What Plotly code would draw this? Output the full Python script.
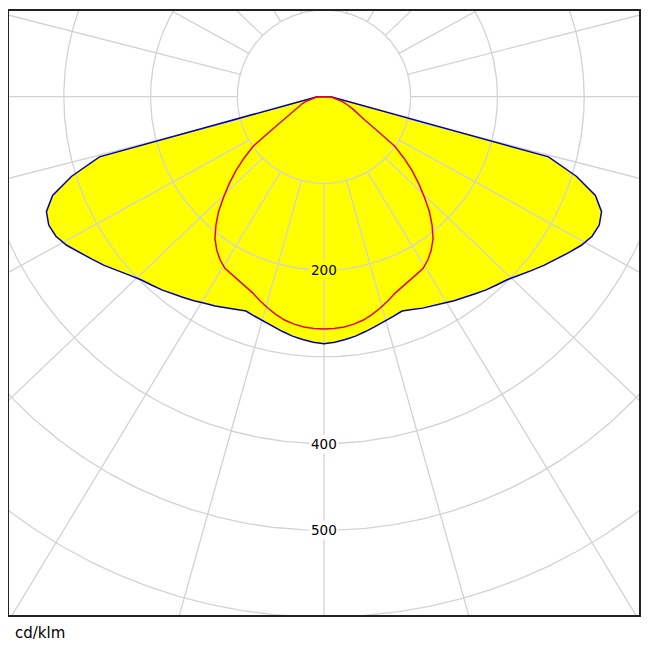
import numpy as np
import plotly.graph_objects as go

# Gamma angles (degrees from nadir) and luminous intensity (cd/klm), symmetric planes
GAMMA = [0, 2.5, 5, 7.5, 10, 12.5, 15, 17.5, 20, 22.5, 25, 27.5, 30, 32.5, 35, 37.5,
         40, 42.5, 45, 47.5, 50, 52.5, 55, 57.5, 60, 62.5, 65, 67.5, 70, 72.5, 75,
         77.5, 80, 82.5, 85, 87.5, 90]
C0_C180 = [285, 283.5, 281, 278.5, 275, 271.5, 268.5, 265.5, 263, 265.5, 269, 272,
           275, 279, 282.7, 286.5, 290.8, 294.5, 298.5, 304.5, 312, 319.5, 326.7,
           334.6, 342.6, 348.5, 350.2, 346.4, 333, 305, 268, 41, 22.5, 15.4, 11.8,
           9.5, 8]
C90_C270 = [268, 267.5, 266.5, 264.5, 261.5, 257, 252, 246.5, 240.7, 237, 233.5, 231,
            228.5, 223, 215.7, 206.5, 194, 180, 163.6, 148, 132.6, 116, 100, 72, 55,
            45.5, 40, 35, 31, 26, 22, 18, 15, 12.5, 10, 9, 8]

RADIAL_GRID = [100, 200, 300, 400, 500, 600, 700]
ANGLE_GRID = list(range(0, 360, 15))
RADIAL_LABELS = [200, 400, 500]
UNIT_LABEL = "cd/klm"

# the spokes of the original diagram are slightly steeper than true radii
SPOKE_Y_FACTOR = 0.958


def closed_curve(gammas, values):
    g = np.radians(np.array(gammas, dtype=float))
    r = np.array(values, dtype=float)
    xl = -r * np.sin(g)
    yl = -r * np.cos(g)
    xr = (r * np.sin(g))[::-1]
    yr = (-r * np.cos(g))[::-1]
    return np.concatenate([xl, xr]), np.concatenate([yl, yr])


fig = go.Figure()

bx, by = closed_curve(GAMMA, C0_C180)
rx, ry = closed_curve(GAMMA, C90_C270)

# yellow fill of the C0-C180 curve
fig.add_trace(go.Scatter(x=bx, y=by, mode="lines", fill="toself",
                         fillcolor="#ffff00", line=dict(width=0, color="#ffff00"),
                         hoverinfo="skip", showlegend=False))

# polar grid
gx, gy = [], []
t = np.linspace(0, 2 * np.pi, 721)
for rr in RADIAL_GRID:
    gx += list(rr * np.cos(t)) + [None]
    gy += list(rr * np.sin(t)) + [None]
r_in, r_out = RADIAL_GRID[0], 1000
for a in ANGLE_GRID:
    ar = np.radians(a)
    gx += [r_in * np.sin(ar), r_out * np.sin(ar), None]
    gy += [-r_in * np.cos(ar), -r_out * SPOKE_Y_FACTOR * np.cos(ar), None]
fig.add_trace(go.Scatter(x=gx, y=gy, mode="lines",
                         line=dict(color="#d2d2d2", width=1.3),
                         hoverinfo="skip", showlegend=False))

# curves
fig.add_trace(go.Scatter(x=bx, y=by, mode="lines",
                         line=dict(color="#0000b0", width=1.5),
                         name="C0-C180", showlegend=False))
fig.add_trace(go.Scatter(x=rx, y=ry, mode="lines",
                         line=dict(color="#e8001a", width=1.5),
                         name="C90-C270", showlegend=False))

for lab in RADIAL_LABELS:
    fig.add_annotation(x=0, y=-lab, xref="x", yref="y", text=str(lab),
                       showarrow=False,
                       font=dict(family="DejaVu Sans", size=13.5, color="black"),
                       bgcolor="#ffff00" if lab <= 250 else "white",
                       borderpad=1)

fig.add_annotation(x=0.0063, y=-0.0297, xref="paper", yref="paper", text=UNIT_LABEL,
                   showarrow=False, xanchor="left", yanchor="middle",
                   font=dict(family="DejaVu Sans", size=15, color="black"))

# 0.87 px per cd/klm
fig.update_xaxes(range=[-363.2, 363.2], showgrid=False, zeroline=False,
                 showticklabels=False, ticks="", showline=True, linecolor="#222",
                 linewidth=1.5, mirror=True, fixedrange=True)
fig.update_yaxes(range=[-597.7, 98.85], showgrid=False, zeroline=False,
                 showticklabels=False, ticks="", showline=True, linecolor="#222",
                 linewidth=1.5, mirror=True, fixedrange=True)

fig.update_layout(width=634, height=634, margin=dict(l=1, r=1, t=1, b=27),
                  paper_bgcolor="white", plot_bgcolor="white")

fig.write_html("out.html")
